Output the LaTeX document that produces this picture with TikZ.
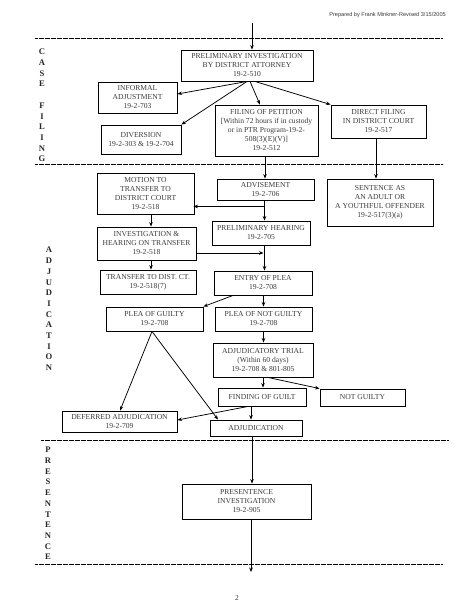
\documentclass[tikz,border=0pt]{standalone}
\usepackage{fontspec}
\setmainfont{Liberation Serif}
\newfontfamily\hdrfont{Liberation Sans}
\usetikzlibrary{arrows.meta}
\definecolor{txtgray}{HTML}{3A3A3A}
\tikzset{
  box/.style={draw=black, line width=0.9pt, inner sep=0pt, align=center,
    text=txtgray, font=\fontsize{7.6}{9}\selectfont},
  arr/.style={line width=0.75pt, -{Stealth[length=4.5pt,width=3.6pt]}},
  sep/.style={line width=0.9pt, dash pattern=on 0.7pt off 0.5pt},
  side/.style={align=center, inner sep=0pt, font=\fontsize{8.6}{10.7}\selectfont\bfseries, text=black!85}
}
\begin{document}
\begin{tikzpicture}[x=1pt,y=-1pt]
\useasboundingbox (0,0) rectangle (474,613);

% header
\node[anchor=east, inner sep=0pt, font=\hdrfont\fontsize{5.6}{6}\selectfont, text=txtgray] (hdr) at (446,15.5) {Prepared by Frank Minkner-Revised 3/15/2005};

% separators
\draw[sep] (35,38) -- (442,38);
\draw[sep] (35,164) -- (443,164);
\draw[sep] (41,440) -- (448,440);
\draw[sep] (35,564) -- (442,564);

% side labels
\node[side] (lcase) at (42,105.5) {C\\A\\S\\E\\[0pt]\mbox{}\\F\\I\\L\\I\\N\\G};
\node[side] (ladj) at (49,309) {A\\D\\J\\U\\D\\I\\C\\A\\T\\I\\O\\N};
\node[side] (lpre) at (48,503.5) {P\\R\\E\\S\\E\\N\\T\\E\\N\\C\\E};

% boxes
\node[box, minimum width=132pt, minimum height=31pt] (pi) at (247,65.5) {PRELIMINARY INVESTIGATION\\BY DISTRICT ATTORNEY\\19-2-510};
\node[box, minimum width=79pt, minimum height=31pt] (ia) at (137.5,97.5) {INFORMAL\\ADJUSTMENT\\19-2-703};
\node[box, minimum width=80pt, minimum height=29pt] (div) at (141,139.5) {DIVERSION\\19-2-303 \& 19-2-704};
\node[box, minimum width=103pt, minimum height=51pt] (fp) at (266.5,130.5) {FILING OF PETITION\\{}[Within 72 hours if in custody\\or in PTR Program-19-2-\\508(3)(E)(V)]\\19-2-512};
\node[box, minimum width=95pt, minimum height=33pt] (df) at (378.5,121.5) {DIRECT FILING\\IN DISTRICT COURT\\19-2-517};
\node[box, minimum width=97pt, minimum height=41pt] (mt) at (145.5,193.5) {MOTION TO\\TRANSFER TO\\DISTRICT COURT\\19-2-518};
\node[box, minimum width=97pt, minimum height=21pt] (adv) at (265.5,189.5) {ADVISEMENT\\19-2-706};
\node[box, minimum width=106pt, minimum height=47pt] (sa) at (380,202.5) {SENTENCE AS\\AN ADULT OR\\A YOUTHFUL OFFENDER\\19-2-517(3)(a)};
\node[box, minimum width=98pt, minimum height=24pt] (ph) at (261,233) {PRELIMINARY HEARING\\19-2-705};
\node[box, minimum width=99pt, minimum height=33pt] (ih) at (146.5,243.5) {INVESTIGATION \&\\HEARING ON TRANSFER\\19-2-518};
\node[box, minimum width=96pt, minimum height=24pt] (tr) at (148,282) {TRANSFER TO DIST. CT.\\19-2-518(7)};
\node[box, minimum width=98pt, minimum height=24pt] (ep) at (263,283) {ENTRY OF PLEA\\19-2-708};
\node[box, minimum width=97pt, minimum height=24pt] (pg) at (154.5,319) {PLEA OF GUILTY\\19-2-708};
\node[box, minimum width=97pt, minimum height=24pt] (png) at (263.5,319) {PLEA OF NOT GUILTY\\19-2-708};
\node[box, minimum width=100pt, minimum height=34pt] (at) at (263,360) {ADJUDICATORY TRIAL\\(Within 60 days)\\19-2-708 \& 801-805};
\node[box, minimum width=88pt, minimum height=18pt] (fg) at (262,397) {FINDING OF GUILT};
\node[box, minimum width=85pt, minimum height=17pt] (ng) at (362.5,397.5) {NOT GUILTY};
\node[box, minimum width=115pt, minimum height=21pt] (da) at (119.5,421.5) {DEFERRED ADJUDICATION\\19-2-709};
\node[box, minimum width=92pt, minimum height=16pt] (adj) at (256,428) {ADJUDICATION};
\node[box, minimum width=129pt, minimum height=35pt] (ps) at (246.5,501.5) {PRESENTENCE\\INVESTIGATION\\19-2-905};

% free ends
\coordinate (top) at (252,23);
\coordinate (bot) at (251,572);

% connectors
\draw[arr] (top) -- (top |- pi.north);
\draw[arr] (pi.south) -- ([yshift=3.5pt]ia.east);
\draw[arr] (pi.south) -- (div.north east);
\draw[arr] ([xshift=3pt]pi.south) -- ([xshift=-6.5pt]fp.north);
\draw[arr] ([xshift=8pt]pi.south) -- (df.north west);
\draw[arr] ([xshift=-1.5pt]fp.south) -- ([xshift=-1.5pt]fp.south |- adv.north);
\draw[arr] ([xshift=-2.5pt]df.south) -- ([xshift=-2.5pt]df.south |- sa.north);
\draw[arr] ([xshift=-1pt]adv.south) -- ([xshift=-1pt]adv.south |- ph.north);
\draw[arr] ([xshift=-1pt,yshift=-6pt]adv.south) -- ([xshift=-1pt,yshift=-6pt]adv.south -| mt.east);
\draw[arr] ([xshift=5.5pt]mt.south) -- ([xshift=5.5pt]mt.south |- ih.north);
\draw[arr] ([xshift=4.5pt]ih.south) -- ([xshift=4.5pt]ih.south |- tr.north);
\draw[arr] ([yshift=-9.5pt]ih.east) -- ([xshift=-2pt,yshift=-9.5pt]ih.east -| adv.south);
\draw[arr] ([xshift=-1pt]adv.south |- ph.south) -- ([xshift=-1pt]adv.south |- ep.north);
\draw[arr] ([xshift=-30pt]ep.south) -- (pg.north east);
\draw[arr] (png.north |- ep.south) -- (png.north);
\draw[arr] (png.south) -- (png.south |- at.north);
\draw[arr] ([xshift=-2.5pt]pg.south) -- ([xshift=0.5pt]da.north);
\draw[arr] ([xshift=-2.5pt]pg.south) -- ([xshift=-38pt]adj.north);
\draw[arr] (at.south) -- (at.south |- fg.north);
\draw[arr] ([xshift=5pt]at.south) -- (ng.north west);
\draw[arr] ([xshift=-14pt]fg.south) -- ([yshift=1.5pt]da.east);
\draw[arr] ([xshift=-11pt]fg.south) -- ([xshift=-11pt]fg.south |- adj.north);
\draw[arr] ([xshift=-4pt]adj.south) -- ([xshift=-4pt]adj.south |- ps.north);
\draw[arr] ([xshift=4.5pt]ps.south) -- (bot);

% page number
\node[inner sep=0pt, font=\fontsize{7.4}{8}\selectfont, text=txtgray] (pno) at (237,598) {2};
\end{tikzpicture}
\end{document}
